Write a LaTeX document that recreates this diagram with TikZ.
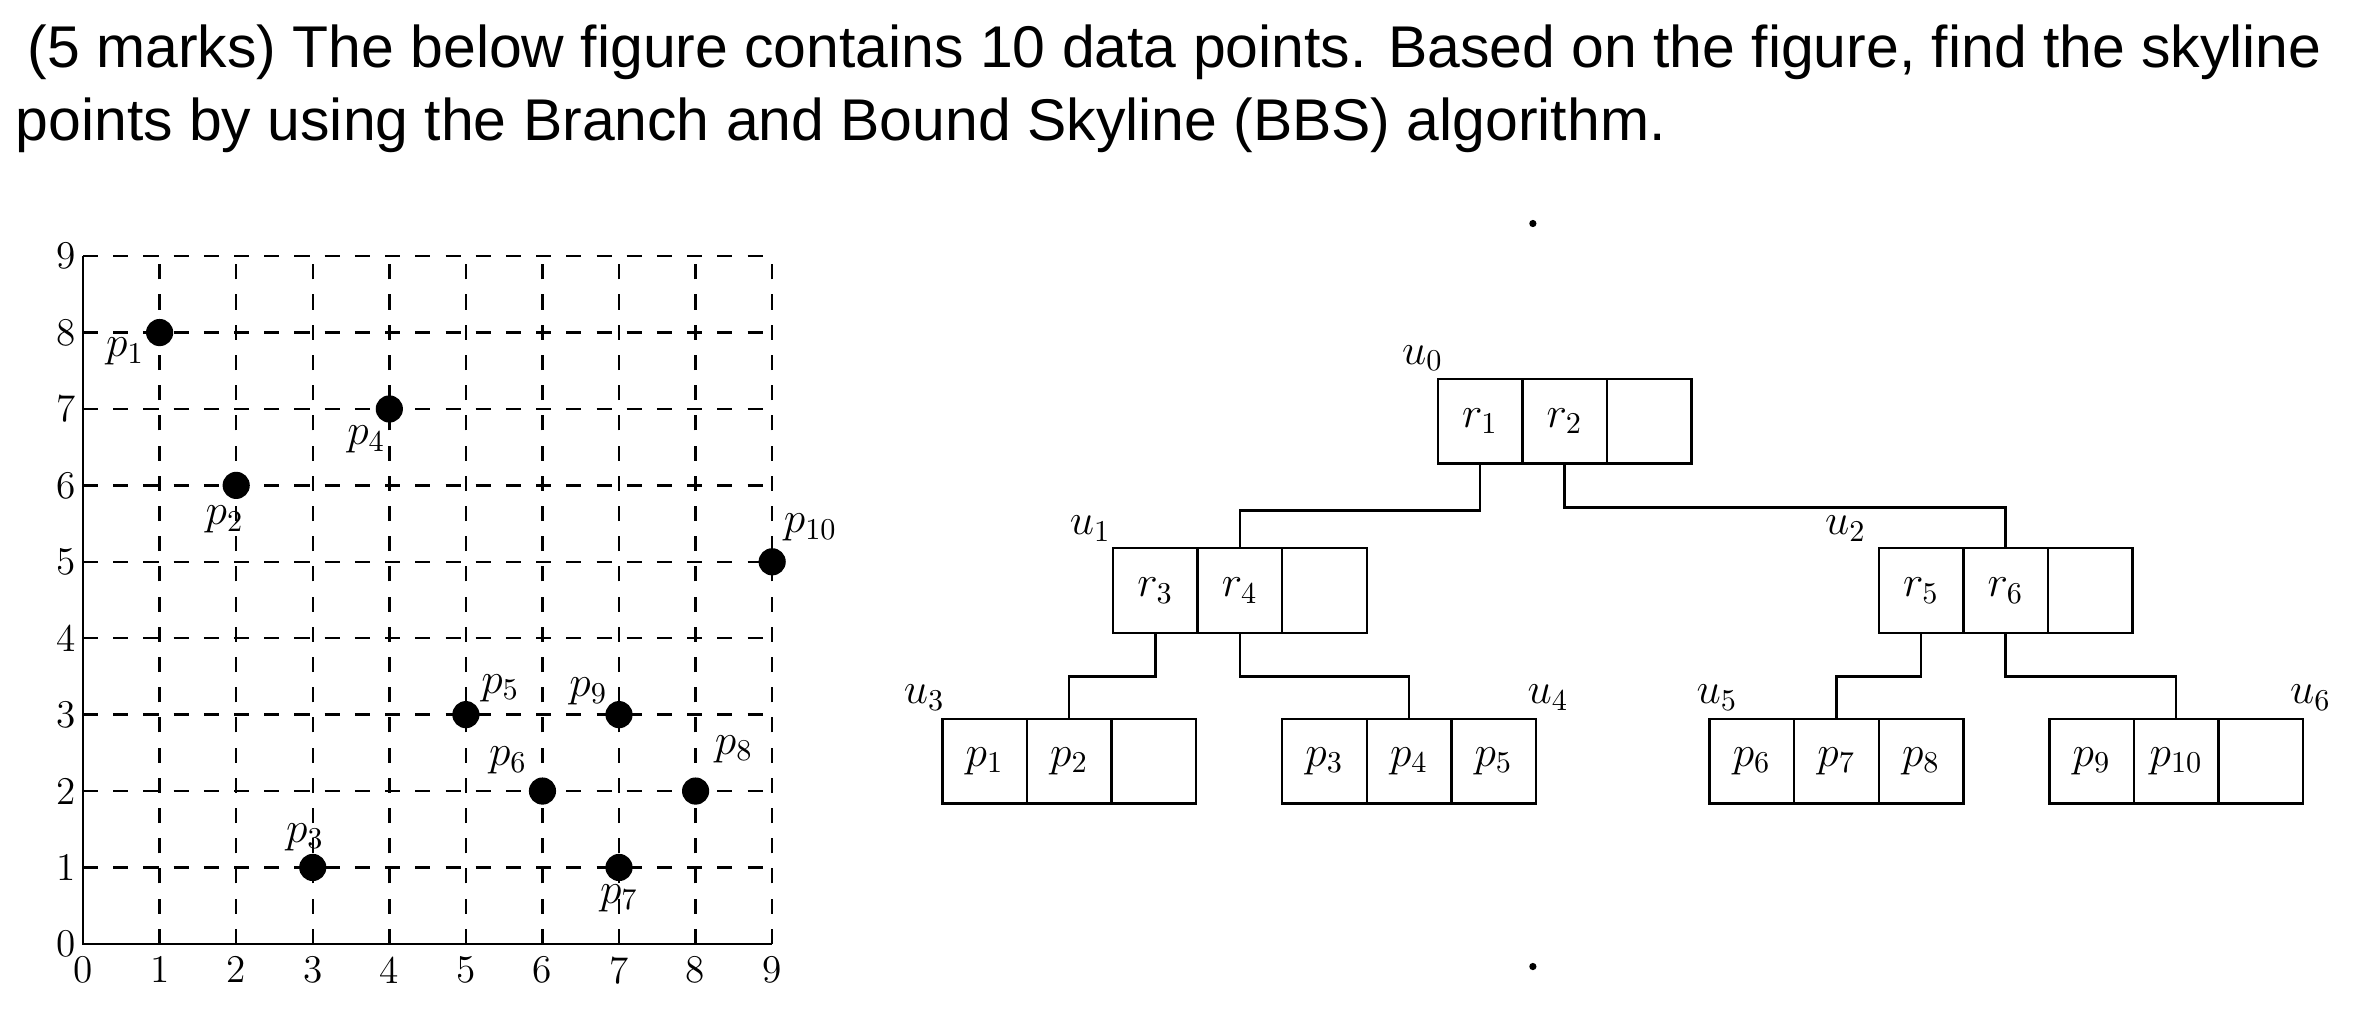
\documentclass[tikz,border=0pt]{standalone}
\usepackage{fontspec}
\newfontfamily\arialf{Liberation Sans}
\begin{document}
\begin{tikzpicture}[x=0.5pt,y=-0.5pt,
  cell/.style={draw,thick,minimum width=28pt,minimum height=28pt,inner sep=0pt,outer sep=0pt,font=\fontsize{14}{16}\selectfont},
  lbl/.style={font=\fontsize{14}{16}\selectfont,inner sep=1pt},
  tick/.style={font=\fontsize{13}{15}\selectfont,inner sep=1pt},
  dot/.style={circle,fill=black,inner sep=0pt,minimum size=9pt},
  con/.style={thick}]
\useasboundingbox (0,0) rectangle (1568,685);
\node[anchor=base west,font=\arialf\fontsize{19.5}{22}\selectfont,inner sep=0] (t1) at (18,45) {(5 marks) The below figure contains 10 data points. Based on the figure, find the skyline};
\node[anchor=base west,font=\arialf\fontsize{19.5}{22}\selectfont,inner sep=0] (t2) at (10,93) {points by using the Branch and Bound Skyline (BBS) algorithm.};
% grid
\begin{scope}[shift={(55,625)},x=25.35pt,y=25.3pt]
 \foreach \i in {1,...,9}{
   \draw[thick,dash pattern=on 5pt off 5pt] (0,\i) -- (9,\i);
   \draw[thick,dash pattern=on 5pt off 5pt] (\i,0) -- (\i,9);
 }
 \draw[thick] (0,9) -- (0,0) -- (9,0);
 \foreach \i in {0,...,9}{
   \node[tick,anchor=north] (xt\i) at (\i,-0.12) {\i};
   \node[tick,anchor=east] (yt\i) at (-0.05,\i) {\i};
 }
 \node[dot] (p1) at (1,8) {}; \node[lbl] (l1) at (0.55,7.75) {$p_1$};
 \node[dot] (p2) at (2,6) {}; \node[lbl] (l2) at (1.85,5.55) {$p_2$};
 \node[dot] (p3) at (3,1) {}; \node[lbl] (l3) at (2.9,1.4) {$p_3$};
 \node[dot] (p4) at (4,7) {}; \node[lbl] (l4) at (3.7,6.6) {$p_4$};
 \node[dot] (p5) at (5,3) {}; \node[lbl] (l5) at (5.45,3.35) {$p_5$};
 \node[dot] (p6) at (6,2) {}; \node[lbl] (l6) at (5.55,2.4) {$p_6$};
 \node[dot] (p7) at (7,1) {}; \node[lbl] (l7) at (7,0.6) {$p_7$};
 \node[dot] (p8) at (8,2) {}; \node[lbl] (l8) at (8.5,2.55) {$p_8$};
 \node[dot] (p9) at (7,3) {}; \node[lbl] (l9) at (6.6,3.3) {$p_9$};
 \node[dot] (p10) at (9,5) {}; \node[lbl] (l10) at (9.5,5.45) {$p_{10}$};
\end{scope}
% tree
\node[cell] (u0a) at (980,279) {$r_1$};
\node[cell,anchor=west] (u0b) at (u0a.east) {$r_2$};
\node[cell,anchor=west] (u0c) at (u0b.east) {};
\node[cell] (u1a) at (765,391) {$r_3$};
\node[cell,anchor=west] (u1b) at (u1a.east) {$r_4$};
\node[cell,anchor=west] (u1c) at (u1b.east) {};
\node[cell] (u2a) at (1272,391) {$r_5$};
\node[cell,anchor=west] (u2b) at (u2a.east) {$r_6$};
\node[cell,anchor=west] (u2c) at (u2b.east) {};
\node[cell] (u3a) at (652,504) {$p_1$};
\node[cell,anchor=west] (u3b) at (u3a.east) {$p_2$};
\node[cell,anchor=west] (u3c) at (u3b.east) {};
\node[cell] (u4a) at (877,504) {$p_3$};
\node[cell,anchor=west] (u4b) at (u4a.east) {$p_4$};
\node[cell,anchor=west] (u4c) at (u4b.east) {$p_5$};
\node[cell] (u5a) at (1160,504) {$p_6$};
\node[cell,anchor=west] (u5b) at (u5a.east) {$p_7$};
\node[cell,anchor=west] (u5c) at (u5b.east) {$p_8$};
\node[cell] (u6a) at (1385,504) {$p_9$};
\node[cell,anchor=west] (u6b) at (u6a.east) {$p_{10}$};
\node[cell,anchor=west] (u6c) at (u6b.east) {};
\node[lbl] (nu0) at (942,237) {$u_0$};
\node[lbl] (nu1) at (722,350) {$u_1$};
\node[lbl] (nu2) at (1222,350) {$u_2$};
\node[lbl] (nu3) at (612,462) {$u_3$};
\node[lbl] (nu4) at (1025,462) {$u_4$};
\node[lbl] (nu5) at (1137,462) {$u_5$};
\node[lbl] (nu6) at (1530,462) {$u_6$};
\draw[con] (u0a.south) -- ++(0,31) -| (u1b.north);
\draw[con] (u0b.south) -- ++(0,29) -| (u2b.north);
\draw[con] (u1a.south) -- ++(0,29) -| (u3b.north);
\draw[con] (u1b.south) -- ++(0,29) -| (u4b.north);
\draw[con] (u2a.south) -- ++(0,29) -| (u5b.north);
\draw[con] (u2b.south) -- ++(0,29) -| (u6b.north);
\fill (1015,148) circle (1.2pt);
\fill (1015,640) circle (1.2pt);
\end{tikzpicture}
\end{document}
